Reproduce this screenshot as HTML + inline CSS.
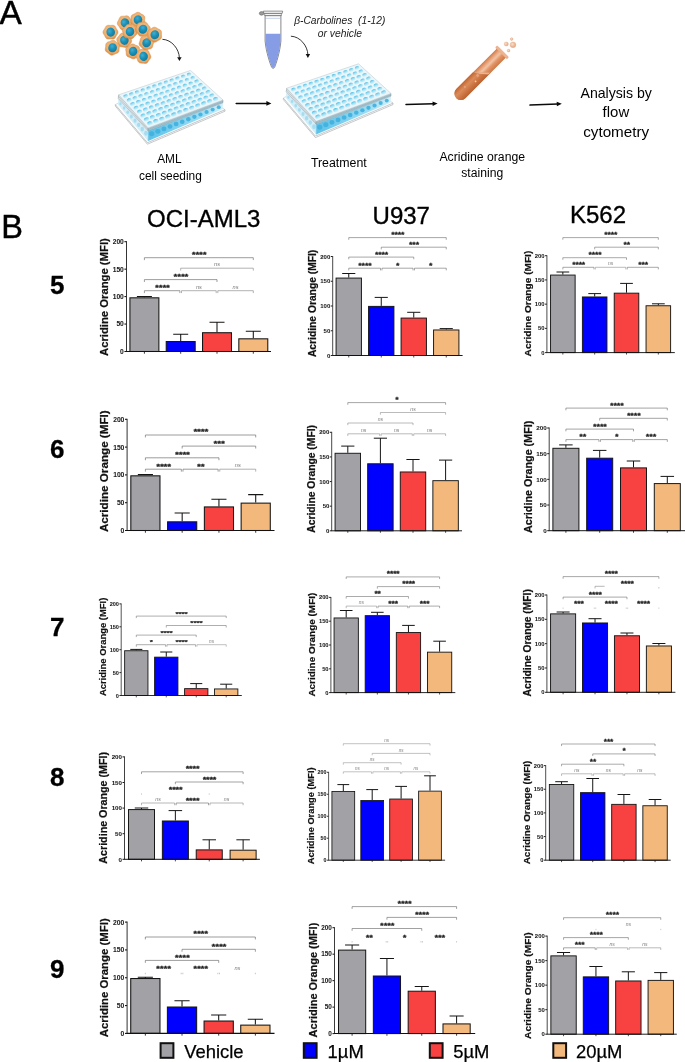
<!DOCTYPE html>
<html lang="en"><head><meta charset="utf-8"><title>Figure</title>
<style>
html,body{margin:0;padding:0;background:#fff;}
body{width:685px;height:1062px;overflow:hidden;}
svg{display:block;}
text{font-family:"Liberation Sans",Arial,sans-serif;fill:#000;}
.yl{font-weight:bold;fill:#111;stroke:#111;}
.tk{font-weight:bold;fill:#1a1a1a;stroke:#1a1a1a;}
.st{font-weight:bold;font-style:italic;fill:#222;stroke:#222;}
.ns{font-style:italic;fill:#7a7a7a;}
.hd{font-size:24px;stroke:#000;stroke-width:0.35px;}
.rw{font-size:26px;font-weight:bold;stroke:#000;stroke-width:0.3px;}
.pl{font-size:32.5px;stroke:#000;stroke-width:0.45px;}
.lg{font-size:18.4px;stroke:#000;stroke-width:0.25px;}
.cap{font-size:12px;}
.big{font-size:14.5px;}
.it{font-size:10.3px;font-style:italic;fill:#222;}
</style></head><body>
<svg width="685" height="1062" viewBox="0 0 685 1062">
<defs>
<radialGradient id="gc" cx="0.45" cy="0.42" r="0.6"><stop offset="0" stop-color="#f6c28e"/><stop offset="0.7" stop-color="#efae6c"/><stop offset="1" stop-color="#d48c48"/></radialGradient>
<radialGradient id="gn" cx="0.38" cy="0.36" r="0.7"><stop offset="0" stop-color="#44acd0"/><stop offset="0.5" stop-color="#1a90b6"/><stop offset="1" stop-color="#0f789e"/></radialGradient>
<linearGradient id="gw" x1="0" y1="0" x2="0.25" y2="1"><stop offset="0" stop-color="#30aad8"/><stop offset="0.3" stop-color="#74cfec"/><stop offset="0.6" stop-color="#aae2f4"/><stop offset="1" stop-color="#d6f1fa"/></linearGradient>
<linearGradient id="gs" x1="0" y1="0" x2="1" y2="0"><stop offset="0" stop-color="#5cc2e9"/><stop offset="0.75" stop-color="#a2dff4"/><stop offset="1" stop-color="#d4f0fa"/></linearGradient>
<linearGradient id="gt" x1="0" y1="0" x2="1" y2="0"><stop offset="0" stop-color="#d07a48"/><stop offset="0.25" stop-color="#e8a57c"/><stop offset="0.45" stop-color="#f2c4a6"/><stop offset="0.65" stop-color="#e39668"/><stop offset="1" stop-color="#cf7744"/></linearGradient>
<linearGradient id="gl" x1="0" y1="0" x2="1" y2="0"><stop offset="0" stop-color="#c0622e"/><stop offset="0.35" stop-color="#d98553"/><stop offset="0.6" stop-color="#cf7644"/><stop offset="1" stop-color="#bb5e2c"/></linearGradient>
<radialGradient id="gb" cx="0.4" cy="0.4" r="0.6"><stop offset="0" stop-color="#f8e0cc"/><stop offset="1" stop-color="#e4a47c"/></radialGradient>
<g id="cell"><path d="M7.46 0 L7.3 0.64 L7.05 1.24 L6.74 1.81 L6.44 2.34 L6.16 2.87 L5.93 3.42 L5.71 4 L5.47 4.59 L5.17 5.17 L4.79 5.71 L4.3 6.14 L3.73 6.46 L3.1 6.65 L2.45 6.73 L1.81 6.74 L1.19 6.75 L0.59 6.77 L0 6.84 L-0.61 6.94 L-1.24 7.03 L-1.89 7.07 L-2.55 7 L-3.17 6.8 L-3.73 6.46 L-4.21 6.01 L-4.6 5.48 L-4.94 4.94 L-5.25 4.4 L-5.57 3.9 L-5.93 3.42 L-6.32 2.94 L-6.71 2.44 L-7.07 1.89 L-7.34 1.29 L-7.47 0.65 L-7.46 0 L-7.3 -0.64 L-7.05 -1.24 L-6.74 -1.81 L-6.44 -2.34 L-6.16 -2.87 L-5.93 -3.42 L-5.71 -4 L-5.47 -4.59 L-5.17 -5.17 L-4.79 -5.71 L-4.3 -6.14 L-3.73 -6.46 L-3.1 -6.65 L-2.45 -6.73 L-1.81 -6.74 L-1.19 -6.75 L-0.59 -6.77 L-0 -6.84 L0.61 -6.94 L1.24 -7.03 L1.89 -7.07 L2.55 -7 L3.17 -6.8 L3.73 -6.46 L4.21 -6.01 L4.6 -5.48 L4.94 -4.94 L5.25 -4.4 L5.57 -3.9 L5.93 -3.42 L6.32 -2.94 L6.71 -2.44 L7.07 -1.89 L7.34 -1.29 L7.47 -0.65Z" fill="url(#gc)" stroke="#d4904e" stroke-width="0.5"/><ellipse cx="0.2" cy="0" rx="4.3" ry="4.6" fill="url(#gn)" transform="rotate(-20)"/></g>
<g id="plate"><path d="M115.4 104.6L147.4 142.6L225 109.6L225 111.2L147.4 144.2L115.4 106.2Z" fill="#fff" stroke="#9ea3a6" stroke-width="0.6" stroke-linejoin="round"/><path d="M115.4 104.6L118.3 103L148.1 139.8L222.6 108L225 109.6L147.4 142.6Z" fill="#fafcfd" stroke="#b0b5b8" stroke-width="0.45" stroke-linejoin="round"/><path d="M118.3 98.3L148.1 130.8L148.1 141L118 104.6Z" fill="#d3eef8"/><ellipse cx="120.48" cy="103.82" rx="1.16" ry="1.57" fill="#a5dcf0"/><ellipse cx="124.11" cy="108.03" rx="1.25" ry="1.7" fill="#a5dcf0"/><ellipse cx="127.75" cy="112.24" rx="1.35" ry="1.82" fill="#a5dcf0"/><ellipse cx="131.38" cy="116.45" rx="1.44" ry="1.95" fill="#a5dcf0"/><ellipse cx="135.02" cy="120.65" rx="1.53" ry="2.08" fill="#a5dcf0"/><ellipse cx="138.65" cy="124.86" rx="1.63" ry="2.2" fill="#a5dcf0"/><ellipse cx="142.29" cy="129.07" rx="1.72" ry="2.33" fill="#a5dcf0"/><ellipse cx="145.92" cy="133.28" rx="1.81" ry="2.45" fill="#a5dcf0"/><path d="M148.1 130.8L223 102.8L222.6 109L148.1 141Z" fill="url(#gs)"/><ellipse cx="151.75" cy="133.75" rx="2.62" ry="2.49" fill="#3fb0df" opacity="0.9"/><ellipse cx="157.84" cy="131.34" rx="2.56" ry="2.43" fill="#3fb0df" opacity="0.9"/><ellipse cx="163.93" cy="128.92" rx="2.5" ry="2.38" fill="#3fb0df" opacity="0.9"/><ellipse cx="170.02" cy="126.51" rx="2.45" ry="2.32" fill="#3fb0df" opacity="0.9"/><ellipse cx="176.11" cy="124.09" rx="2.39" ry="2.27" fill="#3fb0df" opacity="0.9"/><ellipse cx="182.2" cy="121.68" rx="2.33" ry="2.21" fill="#3fb0df" opacity="0.9"/><ellipse cx="188.29" cy="119.26" rx="2.27" ry="2.16" fill="#3fb0df" opacity="0.9"/><ellipse cx="194.38" cy="116.85" rx="2.22" ry="2.11" fill="#3fb0df" opacity="0.9"/><ellipse cx="200.47" cy="114.43" rx="2.16" ry="2.05" fill="#3fb0df" opacity="0.9"/><ellipse cx="206.56" cy="112.02" rx="2.1" ry="2" fill="#3fb0df" opacity="0.9"/><ellipse cx="212.65" cy="109.6" rx="2.05" ry="1.94" fill="#3fb0df" opacity="0.9"/><ellipse cx="218.74" cy="107.19" rx="1.99" ry="1.89" fill="#3fb0df" opacity="0.9"/><path d="M148.1 130.8V141" stroke="#8fcfe6" stroke-width="0.5"/><path d="M118.7 94.8L148.1 127.9L148.1 130.8L118.2 98.3Z" fill="#e2ecf0" stroke="#868c90" stroke-width="0.45" stroke-linejoin="round"/><path d="M118.5 96.6L148.1 129.5" stroke="#868c90" stroke-width="0.4"/><path d="M148.1 127.9L223 100L223 102.7L148.1 130.8Z" fill="#a3ccdb" stroke="#868c90" stroke-width="0.45" stroke-linejoin="round"/><path d="M148.1 129.5L223 101.5" stroke="#8e9498" stroke-width="0.4"/><path d="M118.7 94.8L190.5 70.4L223.0 100.0L148.1 127.9Z" fill="#e9f7fc" stroke="#b9c2c6" stroke-width="0.5" stroke-linejoin="round"/><ellipse cx="125.62" cy="96.24" rx="2.37" ry="1.82" fill="url(#gw)" transform="rotate(-14 125.62 96.24)"/><ellipse cx="131.38" cy="94.26" rx="2.36" ry="1.81" fill="url(#gw)" transform="rotate(-14 131.38 94.26)"/><ellipse cx="137.15" cy="92.28" rx="2.35" ry="1.8" fill="url(#gw)" transform="rotate(-14 137.15 92.28)"/><ellipse cx="142.92" cy="90.31" rx="2.34" ry="1.79" fill="url(#gw)" transform="rotate(-14 142.92 90.31)"/><ellipse cx="148.68" cy="88.33" rx="2.33" ry="1.78" fill="url(#gw)" transform="rotate(-14 148.68 88.33)"/><ellipse cx="154.45" cy="86.35" rx="2.32" ry="1.78" fill="url(#gw)" transform="rotate(-14 154.45 86.35)"/><ellipse cx="160.21" cy="84.38" rx="2.31" ry="1.77" fill="url(#gw)" transform="rotate(-14 160.21 84.38)"/><ellipse cx="165.98" cy="82.4" rx="2.3" ry="1.76" fill="url(#gw)" transform="rotate(-14 165.98 82.4)"/><ellipse cx="171.75" cy="80.42" rx="2.29" ry="1.75" fill="url(#gw)" transform="rotate(-14 171.75 80.42)"/><ellipse cx="177.51" cy="78.45" rx="2.28" ry="1.75" fill="url(#gw)" transform="rotate(-14 177.51 78.45)"/><ellipse cx="183.28" cy="76.47" rx="2.27" ry="1.74" fill="url(#gw)" transform="rotate(-14 183.28 76.47)"/><ellipse cx="189.04" cy="74.49" rx="2.26" ry="1.73" fill="url(#gw)" transform="rotate(-14 189.04 74.49)"/><ellipse cx="129.1" cy="100.11" rx="2.42" ry="1.85" fill="url(#gw)" transform="rotate(-14 129.1 100.11)"/><ellipse cx="134.89" cy="98.1" rx="2.41" ry="1.84" fill="url(#gw)" transform="rotate(-14 134.89 98.1)"/><ellipse cx="140.69" cy="96.09" rx="2.4" ry="1.84" fill="url(#gw)" transform="rotate(-14 140.69 96.09)"/><ellipse cx="146.48" cy="94.08" rx="2.39" ry="1.83" fill="url(#gw)" transform="rotate(-14 146.48 94.08)"/><ellipse cx="152.28" cy="92.07" rx="2.38" ry="1.82" fill="url(#gw)" transform="rotate(-14 152.28 92.07)"/><ellipse cx="158.07" cy="90.06" rx="2.37" ry="1.81" fill="url(#gw)" transform="rotate(-14 158.07 90.06)"/><ellipse cx="163.87" cy="88.05" rx="2.36" ry="1.81" fill="url(#gw)" transform="rotate(-14 163.87 88.05)"/><ellipse cx="169.66" cy="86.04" rx="2.35" ry="1.8" fill="url(#gw)" transform="rotate(-14 169.66 86.04)"/><ellipse cx="175.46" cy="84.03" rx="2.34" ry="1.79" fill="url(#gw)" transform="rotate(-14 175.46 84.03)"/><ellipse cx="181.25" cy="82.02" rx="2.33" ry="1.78" fill="url(#gw)" transform="rotate(-14 181.25 82.02)"/><ellipse cx="187.05" cy="80.01" rx="2.32" ry="1.77" fill="url(#gw)" transform="rotate(-14 187.05 80.01)"/><ellipse cx="192.84" cy="78" rx="2.31" ry="1.77" fill="url(#gw)" transform="rotate(-14 192.84 78)"/><ellipse cx="132.58" cy="103.98" rx="2.47" ry="1.89" fill="url(#gw)" transform="rotate(-14 132.58 103.98)"/><ellipse cx="138.4" cy="101.93" rx="2.46" ry="1.88" fill="url(#gw)" transform="rotate(-14 138.4 101.93)"/><ellipse cx="144.23" cy="99.89" rx="2.45" ry="1.87" fill="url(#gw)" transform="rotate(-14 144.23 99.89)"/><ellipse cx="150.05" cy="97.85" rx="2.44" ry="1.87" fill="url(#gw)" transform="rotate(-14 150.05 97.85)"/><ellipse cx="155.88" cy="95.81" rx="2.43" ry="1.86" fill="url(#gw)" transform="rotate(-14 155.88 95.81)"/><ellipse cx="161.7" cy="93.76" rx="2.42" ry="1.85" fill="url(#gw)" transform="rotate(-14 161.7 93.76)"/><ellipse cx="167.53" cy="91.72" rx="2.41" ry="1.84" fill="url(#gw)" transform="rotate(-14 167.53 91.72)"/><ellipse cx="173.35" cy="89.68" rx="2.4" ry="1.83" fill="url(#gw)" transform="rotate(-14 173.35 89.68)"/><ellipse cx="179.17" cy="87.64" rx="2.39" ry="1.83" fill="url(#gw)" transform="rotate(-14 179.17 87.64)"/><ellipse cx="185" cy="85.59" rx="2.38" ry="1.82" fill="url(#gw)" transform="rotate(-14 185 85.59)"/><ellipse cx="190.82" cy="83.55" rx="2.37" ry="1.81" fill="url(#gw)" transform="rotate(-14 190.82 83.55)"/><ellipse cx="196.65" cy="81.51" rx="2.36" ry="1.8" fill="url(#gw)" transform="rotate(-14 196.65 81.51)"/><ellipse cx="136.06" cy="107.85" rx="2.52" ry="1.93" fill="url(#gw)" transform="rotate(-14 136.06 107.85)"/><ellipse cx="141.91" cy="105.77" rx="2.51" ry="1.92" fill="url(#gw)" transform="rotate(-14 141.91 105.77)"/><ellipse cx="147.77" cy="103.7" rx="2.5" ry="1.91" fill="url(#gw)" transform="rotate(-14 147.77 103.7)"/><ellipse cx="153.62" cy="101.62" rx="2.49" ry="1.9" fill="url(#gw)" transform="rotate(-14 153.62 101.62)"/><ellipse cx="159.47" cy="99.54" rx="2.48" ry="1.89" fill="url(#gw)" transform="rotate(-14 159.47 99.54)"/><ellipse cx="165.33" cy="97.47" rx="2.47" ry="1.89" fill="url(#gw)" transform="rotate(-14 165.33 97.47)"/><ellipse cx="171.18" cy="95.39" rx="2.46" ry="1.88" fill="url(#gw)" transform="rotate(-14 171.18 95.39)"/><ellipse cx="177.03" cy="93.32" rx="2.45" ry="1.87" fill="url(#gw)" transform="rotate(-14 177.03 93.32)"/><ellipse cx="182.89" cy="91.24" rx="2.44" ry="1.86" fill="url(#gw)" transform="rotate(-14 182.89 91.24)"/><ellipse cx="188.74" cy="89.17" rx="2.43" ry="1.86" fill="url(#gw)" transform="rotate(-14 188.74 89.17)"/><ellipse cx="194.59" cy="87.09" rx="2.42" ry="1.85" fill="url(#gw)" transform="rotate(-14 194.59 87.09)"/><ellipse cx="200.45" cy="85.02" rx="2.41" ry="1.84" fill="url(#gw)" transform="rotate(-14 200.45 85.02)"/><ellipse cx="139.54" cy="111.72" rx="2.57" ry="1.96" fill="url(#gw)" transform="rotate(-14 139.54 111.72)"/><ellipse cx="145.42" cy="109.61" rx="2.56" ry="1.95" fill="url(#gw)" transform="rotate(-14 145.42 109.61)"/><ellipse cx="151.31" cy="107.5" rx="2.55" ry="1.95" fill="url(#gw)" transform="rotate(-14 151.31 107.5)"/><ellipse cx="157.19" cy="105.39" rx="2.54" ry="1.94" fill="url(#gw)" transform="rotate(-14 157.19 105.39)"/><ellipse cx="163.07" cy="103.28" rx="2.53" ry="1.93" fill="url(#gw)" transform="rotate(-14 163.07 103.28)"/><ellipse cx="168.95" cy="101.17" rx="2.52" ry="1.92" fill="url(#gw)" transform="rotate(-14 168.95 101.17)"/><ellipse cx="174.84" cy="99.06" rx="2.51" ry="1.92" fill="url(#gw)" transform="rotate(-14 174.84 99.06)"/><ellipse cx="180.72" cy="96.96" rx="2.49" ry="1.91" fill="url(#gw)" transform="rotate(-14 180.72 96.96)"/><ellipse cx="186.6" cy="94.85" rx="2.48" ry="1.9" fill="url(#gw)" transform="rotate(-14 186.6 94.85)"/><ellipse cx="192.48" cy="92.74" rx="2.47" ry="1.89" fill="url(#gw)" transform="rotate(-14 192.48 92.74)"/><ellipse cx="198.37" cy="90.63" rx="2.46" ry="1.88" fill="url(#gw)" transform="rotate(-14 198.37 90.63)"/><ellipse cx="204.25" cy="88.52" rx="2.45" ry="1.88" fill="url(#gw)" transform="rotate(-14 204.25 88.52)"/><ellipse cx="143.02" cy="115.59" rx="2.61" ry="2" fill="url(#gw)" transform="rotate(-14 143.02 115.59)"/><ellipse cx="148.93" cy="113.44" rx="2.6" ry="1.99" fill="url(#gw)" transform="rotate(-14 148.93 113.44)"/><ellipse cx="154.85" cy="111.3" rx="2.59" ry="1.98" fill="url(#gw)" transform="rotate(-14 154.85 111.3)"/><ellipse cx="160.76" cy="109.16" rx="2.58" ry="1.98" fill="url(#gw)" transform="rotate(-14 160.76 109.16)"/><ellipse cx="166.67" cy="107.02" rx="2.57" ry="1.97" fill="url(#gw)" transform="rotate(-14 166.67 107.02)"/><ellipse cx="172.58" cy="104.88" rx="2.56" ry="1.96" fill="url(#gw)" transform="rotate(-14 172.58 104.88)"/><ellipse cx="178.49" cy="102.74" rx="2.55" ry="1.95" fill="url(#gw)" transform="rotate(-14 178.49 102.74)"/><ellipse cx="184.4" cy="100.6" rx="2.54" ry="1.94" fill="url(#gw)" transform="rotate(-14 184.4 100.6)"/><ellipse cx="190.32" cy="98.45" rx="2.53" ry="1.94" fill="url(#gw)" transform="rotate(-14 190.32 98.45)"/><ellipse cx="196.23" cy="96.31" rx="2.52" ry="1.93" fill="url(#gw)" transform="rotate(-14 196.23 96.31)"/><ellipse cx="202.14" cy="94.17" rx="2.51" ry="1.92" fill="url(#gw)" transform="rotate(-14 202.14 94.17)"/><ellipse cx="208.05" cy="92.03" rx="2.5" ry="1.91" fill="url(#gw)" transform="rotate(-14 208.05 92.03)"/><ellipse cx="146.5" cy="119.45" rx="2.66" ry="2.04" fill="url(#gw)" transform="rotate(-14 146.5 119.45)"/><ellipse cx="152.44" cy="117.28" rx="2.65" ry="2.03" fill="url(#gw)" transform="rotate(-14 152.44 117.28)"/><ellipse cx="158.38" cy="115.11" rx="2.64" ry="2.02" fill="url(#gw)" transform="rotate(-14 158.38 115.11)"/><ellipse cx="164.33" cy="112.93" rx="2.63" ry="2.01" fill="url(#gw)" transform="rotate(-14 164.33 112.93)"/><ellipse cx="170.27" cy="110.76" rx="2.62" ry="2" fill="url(#gw)" transform="rotate(-14 170.27 110.76)"/><ellipse cx="176.21" cy="108.58" rx="2.61" ry="2" fill="url(#gw)" transform="rotate(-14 176.21 108.58)"/><ellipse cx="182.15" cy="106.41" rx="2.6" ry="1.99" fill="url(#gw)" transform="rotate(-14 182.15 106.41)"/><ellipse cx="188.09" cy="104.23" rx="2.59" ry="1.98" fill="url(#gw)" transform="rotate(-14 188.09 104.23)"/><ellipse cx="194.03" cy="102.06" rx="2.58" ry="1.97" fill="url(#gw)" transform="rotate(-14 194.03 102.06)"/><ellipse cx="199.97" cy="99.89" rx="2.57" ry="1.97" fill="url(#gw)" transform="rotate(-14 199.97 99.89)"/><ellipse cx="205.91" cy="97.71" rx="2.56" ry="1.96" fill="url(#gw)" transform="rotate(-14 205.91 97.71)"/><ellipse cx="211.85" cy="95.54" rx="2.55" ry="1.95" fill="url(#gw)" transform="rotate(-14 211.85 95.54)"/><ellipse cx="149.98" cy="123.32" rx="2.71" ry="2.07" fill="url(#gw)" transform="rotate(-14 149.98 123.32)"/><ellipse cx="155.95" cy="121.12" rx="2.7" ry="2.06" fill="url(#gw)" transform="rotate(-14 155.95 121.12)"/><ellipse cx="161.92" cy="118.91" rx="2.69" ry="2.06" fill="url(#gw)" transform="rotate(-14 161.92 118.91)"/><ellipse cx="167.89" cy="116.7" rx="2.68" ry="2.05" fill="url(#gw)" transform="rotate(-14 167.89 116.7)"/><ellipse cx="173.86" cy="114.49" rx="2.67" ry="2.04" fill="url(#gw)" transform="rotate(-14 173.86 114.49)"/><ellipse cx="179.83" cy="112.29" rx="2.66" ry="2.03" fill="url(#gw)" transform="rotate(-14 179.83 112.29)"/><ellipse cx="185.8" cy="110.08" rx="2.65" ry="2.03" fill="url(#gw)" transform="rotate(-14 185.8 110.08)"/><ellipse cx="191.77" cy="107.87" rx="2.64" ry="2.02" fill="url(#gw)" transform="rotate(-14 191.77 107.87)"/><ellipse cx="197.74" cy="105.67" rx="2.63" ry="2.01" fill="url(#gw)" transform="rotate(-14 197.74 105.67)"/><ellipse cx="203.71" cy="103.46" rx="2.62" ry="2" fill="url(#gw)" transform="rotate(-14 203.71 103.46)"/><ellipse cx="209.68" cy="101.25" rx="2.61" ry="1.99" fill="url(#gw)" transform="rotate(-14 209.68 101.25)"/><ellipse cx="215.65" cy="99.04" rx="2.6" ry="1.99" fill="url(#gw)" transform="rotate(-14 215.65 99.04)"/></g>
</defs>
<g id="panelA">
<use href="#cell" transform="translate(124.8 22.9) rotate(0)"/>
<use href="#cell" transform="translate(137.8 19.8) rotate(37)"/>
<use href="#cell" transform="translate(124.2 40.3) rotate(14)"/>
<use href="#cell" transform="translate(146.5 42.7) rotate(51)"/>
<use href="#cell" transform="translate(132.9 51.4) rotate(28)"/>
<use href="#cell" transform="translate(110.5 32.2) rotate(5)"/>
<use href="#cell" transform="translate(112.4 47.7) rotate(42)"/>
<use href="#cell" transform="translate(129.8 31.6) rotate(19)"/>
<use href="#cell" transform="translate(142.8 29.1) rotate(56)"/>
<use href="#cell" transform="translate(154.6 34.7) rotate(33)"/>
<use href="#cell" transform="translate(143.4 56.4) rotate(10)"/>
<path d="M162.4 39.3C171.75 39.6 179.1 49.06 179.4 57.8" fill="none" stroke="#111" stroke-width="0.85"/><path d="M177.2 57.2L181.6 57.2L179.4 61Z" fill="#111"/>
<path d="M290.9 36.2C300.25 36.5 307.6 45.97 307.9 54.7" fill="none" stroke="#111" stroke-width="0.85"/><path d="M305.7 54.1L310.1 54.1L307.9 57.9Z" fill="#111"/>
<use href="#plate"/>
<use href="#plate" transform="translate(168 -6.6)"/>
<path d="M236.2 103.4L267.4 103.4" stroke="#0a0a0a" stroke-width="1.5" stroke-linecap="round"/><path d="M266.4 105.7L271.4 103.4L266.4 101.1Z" fill="#0a0a0a"/>
<path d="M406 104.6L433.6 103.73" stroke="#0a0a0a" stroke-width="1.5" stroke-linecap="round"/><path d="M432.68 106.06L437.6 103.6L432.53 101.46Z" fill="#0a0a0a"/>
<path d="M530 105.1L557.8 103.96" stroke="#0a0a0a" stroke-width="1.5" stroke-linecap="round"/><path d="M556.9 106.3L561.8 103.8L556.71 101.71Z" fill="#0a0a0a"/>
<g id="epp">
<ellipse cx="261.6" cy="13.4" rx="2.3" ry="1.8" fill="#9a9a9a" stroke="#555" stroke-width="0.5"/>
<path d="M265.1 15.7V41C266 52 270.3 64 271.6 67.3Q273.1 69.6 274.6 67.3C276 64 280 52 280.9 41V15.7Z" fill="#fff" stroke="#555" stroke-width="0.7" stroke-linejoin="round"/>
<path d="M265.45 33.7H280.55V41C279.7 52 275.8 63.8 274.4 67Q273.1 69 271.8 67C270.5 63.8 266.3 52 265.45 41Z" fill="#869de6"/>
<path d="M265.4 18.3H280.6" stroke="#8da0d8" stroke-width="0.5"/>
<rect x="264.8" y="13.3" width="16.4" height="2.4" fill="#f4f4f4" stroke="#555" stroke-width="0.6"/>
<path d="M263.3 11.1H282.7L282.2 13.4H263.8Z" fill="#f0f0f0" stroke="#555" stroke-width="0.6" stroke-linejoin="round"/>
</g>
<g id="ttube" transform="translate(460.8 93.6) rotate(45)">
<path d="M-6.4 -57.5V0A6.4 6.4 0 0 0 6.4 0V-57.5Z" fill="url(#gt)"/>
<path d="M-6.4 -23.3L6.4 -36.1V0A6.4 6.4 0 0 1 -6.4 0Z" fill="url(#gl)" opacity="0.9"/>
<path d="M-5.9 -24L5.9 -35.8L5.9 -33L-1 -27Z" fill="#f3c9ac" opacity="0.75"/>
<rect x="-8.2" y="-59.6" width="16.4" height="2.6" rx="1.3" fill="#eeb48f" stroke="#e09e74" stroke-width="0.4"/>
<circle cx="-1.8" cy="-7.6" r="1.5" fill="#e6a277" stroke="#c67046" stroke-width="0.35"/>
<circle cx="-0.9" cy="-24.7" r="1.8" fill="#e6a277" stroke="#c67046" stroke-width="0.35"/>
<circle cx="1.8" cy="-19.1" r="0.9" fill="#f3d0b8"/>
</g>
<circle cx="506.3" cy="44" r="2.1" fill="url(#gb)" stroke="#e6ac88" stroke-width="0.35"/>
<circle cx="513" cy="44.8" r="2.9" fill="url(#gb)" stroke="#e6ac88" stroke-width="0.35"/>
<circle cx="511.6" cy="39.1" r="1.4" fill="url(#gb)" stroke="#e6ac88" stroke-width="0.35"/>
<circle cx="508.6" cy="50.7" r="1.4" fill="url(#gb)" stroke="#e6ac88" stroke-width="0.35"/>
<text class="it" x="294.2" y="24.3" textLength="91.2" lengthAdjust="spacingAndGlyphs">β-Carbolines&#160;&#160;(1-12)</text>
<text class="it" x="317.8" y="36.8" textLength="44.2" lengthAdjust="spacingAndGlyphs">or vehicle</text>
<text class="cap" x="157.2" y="162.8" textLength="24.4" lengthAdjust="spacingAndGlyphs">AML</text>
<text class="cap" x="139.0" y="179.8" textLength="62.8" lengthAdjust="spacingAndGlyphs">cell seeding</text>
<text class="cap" x="310.9" y="167.3" textLength="55.9" lengthAdjust="spacingAndGlyphs">Treatment</text>
<text class="cap" x="439.4" y="161.2" textLength="85.7" lengthAdjust="spacingAndGlyphs">Acridine orange</text>
<text class="cap" x="461.3" y="177.3" textLength="41.9" lengthAdjust="spacingAndGlyphs">staining</text>
<text class="big" x="580.5" y="97.8" textLength="71.4" lengthAdjust="spacingAndGlyphs">Analysis by</text>
<text class="big" x="602.6" y="117.3" textLength="26.6" lengthAdjust="spacingAndGlyphs">flow</text>
<text class="big" x="583.2" y="136.8" textLength="66.0" lengthAdjust="spacingAndGlyphs">cytometry</text>
</g>
<g id="labels">
<text class="pl" x="-0.6" y="23.5" style="font-size:33.4px">A</text>
<text class="pl" x="1.2" y="238.3">B</text>
<text class="hd" x="147" y="226.6">OCI-AML3</text>
<text class="hd" x="372.6" y="224.3">U937</text>
<text class="hd" x="570" y="222.8">K562</text>
<text class="rw" x="50" y="293.8">5</text>
<text class="rw" x="50" y="457.5">6</text>
<text class="rw" x="50" y="636.2">7</text>
<text class="rw" x="50" y="786.3">8</text>
<text class="rw" x="50" y="977.6">9</text>
</g>
<g id="charts">
<g><text class="yl" font-size="11" stroke-width="0.22" textLength="117.8" lengthAdjust="spacingAndGlyphs" transform="translate(108.1 356) rotate(-90)">Acridine Orange (MFI)</text>
<text class="tk" font-size="6.65" stroke-width="0.06" text-anchor="end" x="123.8" y="244.09">200</text>
<path d="M124.4 241.7H126.5" stroke="#111" stroke-width="1.05"/>
<text class="tk" font-size="6.65" stroke-width="0.06" text-anchor="end" x="123.8" y="271.54">150</text>
<path d="M124.4 269.15H126.5" stroke="#111" stroke-width="1.05"/>
<text class="tk" font-size="6.65" stroke-width="0.06" text-anchor="end" x="123.8" y="298.99">100</text>
<path d="M124.4 296.6H126.5" stroke="#111" stroke-width="1.05"/>
<text class="tk" font-size="6.65" stroke-width="0.06" text-anchor="end" x="123.8" y="326.44">50</text>
<path d="M124.4 324.05H126.5" stroke="#111" stroke-width="1.05"/>
<text class="tk" font-size="6.65" stroke-width="0.06" text-anchor="end" x="123.8" y="353.89">0</text>
<path d="M124.4 351.5H126.5" stroke="#111" stroke-width="1.05"/>
<path d="M144.4 297.3V296.5M136.9 296.5H151.9" stroke="#151515" stroke-width="1.05" fill="none"/>
<rect x="129.93" y="297.82" width="28.95" height="53.67" fill="#a1a1a6" stroke="#141414" stroke-width="1.05"/>
<path d="M144.4 351.5v2.2" stroke="#111" stroke-width="0.84"/>
<path d="M180.7 341V334.2M173.2 334.2H188.2" stroke="#151515" stroke-width="1.05" fill="none"/>
<rect x="166.22" y="341.52" width="28.95" height="9.97" fill="#0000fe" stroke="#141414" stroke-width="1.05"/>
<path d="M180.7 351.5v2.2" stroke="#111" stroke-width="0.84"/>
<path d="M217 332.2V322.3M209.5 322.3H224.5" stroke="#151515" stroke-width="1.05" fill="none"/>
<rect x="202.53" y="332.72" width="28.95" height="18.78" fill="#f84242" stroke="#141414" stroke-width="1.05"/>
<path d="M217 351.5v2.2" stroke="#111" stroke-width="0.84"/>
<path d="M253.3 338.3V331.3M245.8 331.3H260.8" stroke="#151515" stroke-width="1.05" fill="none"/>
<rect x="238.83" y="338.82" width="28.95" height="12.67" fill="#f2b87c" stroke="#141414" stroke-width="1.05"/>
<path d="M253.3 351.5v2.2" stroke="#111" stroke-width="0.84"/>
<path d="M126.5 241.17V351.5" stroke="#222" stroke-width="0.92" fill="none"/>
<path d="M126.04 351.5H271" stroke="#111" stroke-width="1.05" fill="none"/>
<path d="M144.4 260.1V257.7H253.3V260.1" stroke="#5c5c5c" stroke-width="0.6" fill="none"/>
<text class="st" font-size="7.3" stroke-width="0.3" textLength="14.63" lengthAdjust="spacingAndGlyphs" x="191.54" y="257.2">****</text>
<path d="M180.7 270.6V268.2H253.3V270.6" stroke="#808080" stroke-width="0.6" fill="none"/>
<text class="ns" font-size="5.6" text-anchor="middle" x="217" y="266">ns</text>
<path d="M144.4 282V279.6H217V282" stroke="#5c5c5c" stroke-width="0.6" fill="none"/>
<text class="st" font-size="7.3" stroke-width="0.3" textLength="14.63" lengthAdjust="spacingAndGlyphs" x="173.39" y="279.1">****</text>
<path d="M144.4 293.1V290.7H179.9V293.1" stroke="#5c5c5c" stroke-width="0.6" fill="none"/>
<text class="st" font-size="7.3" stroke-width="0.3" textLength="14.63" lengthAdjust="spacingAndGlyphs" x="154.84" y="290.2">****</text>
<path d="M181.5 293.1V290.7H216.2V293.1" stroke="#808080" stroke-width="0.6" fill="none"/>
<text class="ns" font-size="5.6" text-anchor="middle" x="198.85" y="288.5">ns</text>
<path d="M217.8 293.1V290.7H253.3V293.1" stroke="#808080" stroke-width="0.6" fill="none"/>
<text class="ns" font-size="5.6" text-anchor="middle" x="235.55" y="288.5">ns</text></g>
<g><text class="yl" font-size="10.03" stroke-width="0.2" textLength="107.4" lengthAdjust="spacingAndGlyphs" transform="translate(316.11 357.1) rotate(-90)">Acridine Orange (MFI)</text>
<text class="tk" font-size="6" stroke-width="0.05" text-anchor="end" x="330.27" y="258.66">200</text>
<path d="M330.81 256.5H332.7" stroke="#111" stroke-width="0.95"/>
<text class="tk" font-size="6" stroke-width="0.05" text-anchor="end" x="330.27" y="283.41">150</text>
<path d="M330.81 281.25H332.7" stroke="#111" stroke-width="0.95"/>
<text class="tk" font-size="6" stroke-width="0.05" text-anchor="end" x="330.27" y="308.16">100</text>
<path d="M330.81 306H332.7" stroke="#111" stroke-width="0.95"/>
<text class="tk" font-size="6" stroke-width="0.05" text-anchor="end" x="330.27" y="332.91">50</text>
<path d="M330.81 330.75H332.7" stroke="#111" stroke-width="0.95"/>
<text class="tk" font-size="6" stroke-width="0.05" text-anchor="end" x="330.27" y="357.66">0</text>
<path d="M330.81 355.5H332.7" stroke="#111" stroke-width="0.95"/>
<path d="M348.75 277.6V273.5M342.18 273.5H355.32" stroke="#151515" stroke-width="1" fill="none"/>
<rect x="336.07" y="278.07" width="25.35" height="77.43" fill="#a1a1a6" stroke="#141414" stroke-width="0.95"/>
<path d="M348.75 355.5v1.98" stroke="#111" stroke-width="0.76"/>
<path d="M381.25 305.9V297.4M374.68 297.4H387.82" stroke="#151515" stroke-width="1" fill="none"/>
<rect x="368.57" y="306.37" width="25.35" height="49.13" fill="#0000fe" stroke="#141414" stroke-width="0.95"/>
<path d="M381.25 355.5v1.98" stroke="#111" stroke-width="0.76"/>
<path d="M413.75 317.6V312.3M407.18 312.3H420.32" stroke="#151515" stroke-width="1" fill="none"/>
<rect x="401.07" y="318.07" width="25.35" height="37.43" fill="#f84242" stroke="#141414" stroke-width="0.95"/>
<path d="M413.75 355.5v1.98" stroke="#111" stroke-width="0.76"/>
<path d="M446.25 329.5V328.6M439.68 328.6H452.82" stroke="#151515" stroke-width="1" fill="none"/>
<rect x="433.57" y="329.97" width="25.35" height="25.53" fill="#f2b87c" stroke="#141414" stroke-width="0.95"/>
<path d="M446.25 355.5v1.98" stroke="#111" stroke-width="0.76"/>
<path d="M332.7 256.03V355.5" stroke="#222" stroke-width="0.83" fill="none"/>
<path d="M332.28 355.5H462.6" stroke="#111" stroke-width="0.95" fill="none"/>
<path d="M348.75 239.76V237.6H446.25V239.76" stroke="#5c5c5c" stroke-width="0.54" fill="none"/>
<text class="st" font-size="6.58" stroke-width="0.27" textLength="13.19" lengthAdjust="spacingAndGlyphs" x="390.91" y="237.15">****</text>
<path d="M381.25 249.36V247.2H446.25V249.36" stroke="#5c5c5c" stroke-width="0.54" fill="none"/>
<text class="st" font-size="6.58" stroke-width="0.27" textLength="9.89" lengthAdjust="spacingAndGlyphs" x="408.8" y="246.75">***</text>
<path d="M348.75 259.26V257.1H413.75V259.26" stroke="#5c5c5c" stroke-width="0.54" fill="none"/>
<text class="st" font-size="6.58" stroke-width="0.27" textLength="13.19" lengthAdjust="spacingAndGlyphs" x="374.66" y="256.65">****</text>
<path d="M348.75 270.36V268.2H380.53V270.36" stroke="#5c5c5c" stroke-width="0.54" fill="none"/>
<text class="st" font-size="6.58" stroke-width="0.27" textLength="13.19" lengthAdjust="spacingAndGlyphs" x="358.05" y="267.75">****</text>
<path d="M381.97 270.36V268.2H413.03V270.36" stroke="#5c5c5c" stroke-width="0.54" fill="none"/>
<text class="st" font-size="6.58" stroke-width="0.27" textLength="3.3" lengthAdjust="spacingAndGlyphs" x="395.85" y="267.75">*</text>
<path d="M414.47 270.36V268.2H446.25V270.36" stroke="#5c5c5c" stroke-width="0.54" fill="none"/>
<text class="st" font-size="6.58" stroke-width="0.27" textLength="3.3" lengthAdjust="spacingAndGlyphs" x="428.71" y="267.75">*</text></g>
<g><text class="yl" font-size="9.87" stroke-width="0.19" textLength="105.7" lengthAdjust="spacingAndGlyphs" transform="translate(530.66 356.4) rotate(-90)">Acridine Orange (MFI)</text>
<text class="tk" font-size="5.87" stroke-width="0.05" text-anchor="end" x="544.52" y="257.81">200</text>
<path d="M545.05 255.7H546.9" stroke="#111" stroke-width="0.93"/>
<text class="tk" font-size="5.87" stroke-width="0.05" text-anchor="end" x="544.52" y="282.04">150</text>
<path d="M545.05 279.93H546.9" stroke="#111" stroke-width="0.93"/>
<text class="tk" font-size="5.87" stroke-width="0.05" text-anchor="end" x="544.52" y="306.26">100</text>
<path d="M545.05 304.15H546.9" stroke="#111" stroke-width="0.93"/>
<text class="tk" font-size="5.87" stroke-width="0.05" text-anchor="end" x="544.52" y="330.49">50</text>
<path d="M545.05 328.38H546.9" stroke="#111" stroke-width="0.93"/>
<text class="tk" font-size="5.87" stroke-width="0.05" text-anchor="end" x="544.52" y="354.71">0</text>
<path d="M545.05 352.6H546.9" stroke="#111" stroke-width="0.93"/>
<path d="M562.85 274.6V272M556.48 272H569.23" stroke="#151515" stroke-width="1" fill="none"/>
<rect x="550.56" y="275.06" width="24.57" height="77.54" fill="#a1a1a6" stroke="#141414" stroke-width="0.93"/>
<path d="M562.85 352.6v1.94" stroke="#111" stroke-width="0.74"/>
<path d="M594.68 296.5V293.6M588.31 293.6H601.06" stroke="#151515" stroke-width="1" fill="none"/>
<rect x="582.39" y="296.96" width="24.57" height="55.64" fill="#0000fe" stroke="#141414" stroke-width="0.93"/>
<path d="M594.68 352.6v1.94" stroke="#111" stroke-width="0.74"/>
<path d="M626.51 292.7V283.4M620.13 283.4H632.88" stroke="#151515" stroke-width="1" fill="none"/>
<rect x="614.22" y="293.16" width="24.57" height="59.44" fill="#f84242" stroke="#141414" stroke-width="0.93"/>
<path d="M626.51 352.6v1.94" stroke="#111" stroke-width="0.74"/>
<path d="M658.34 305.3V303.8M651.97 303.8H664.72" stroke="#151515" stroke-width="1" fill="none"/>
<rect x="646.05" y="305.76" width="24.57" height="46.84" fill="#f2b87c" stroke="#141414" stroke-width="0.93"/>
<path d="M658.34 352.6v1.94" stroke="#111" stroke-width="0.74"/>
<path d="M546.9 255.24V352.6" stroke="#222" stroke-width="0.82" fill="none"/>
<path d="M546.49 352.6H674.8" stroke="#111" stroke-width="0.93" fill="none"/>
<path d="M562.85 239.72V237.6H658.34V239.72" stroke="#5c5c5c" stroke-width="0.53" fill="none"/>
<text class="st" font-size="6.44" stroke-width="0.26" textLength="12.91" lengthAdjust="spacingAndGlyphs" x="604.14" y="237.16">****</text>
<path d="M594.68 249.32V247.2H658.34V249.32" stroke="#5c5c5c" stroke-width="0.53" fill="none"/>
<text class="st" font-size="6.44" stroke-width="0.26" textLength="6.45" lengthAdjust="spacingAndGlyphs" x="623.28" y="246.76">**</text>
<path d="M562.85 259.82V257.7H626.51V259.82" stroke="#5c5c5c" stroke-width="0.53" fill="none"/>
<text class="st" font-size="6.44" stroke-width="0.26" textLength="12.91" lengthAdjust="spacingAndGlyphs" x="588.23" y="257.26">****</text>
<path d="M562.85 269.42V267.3H593.97V269.42" stroke="#5c5c5c" stroke-width="0.53" fill="none"/>
<text class="st" font-size="6.44" stroke-width="0.26" textLength="12.91" lengthAdjust="spacingAndGlyphs" x="571.96" y="266.86">****</text>
<path d="M595.39 269.42V267.3H625.8V269.42" stroke="#808080" stroke-width="0.53" fill="none"/>
<text class="ns" font-size="4.94" text-anchor="middle" x="610.6" y="265.36">ns</text>
<path d="M627.22 269.42V267.3H658.34V269.42" stroke="#5c5c5c" stroke-width="0.53" fill="none"/>
<text class="st" font-size="6.44" stroke-width="0.26" textLength="9.68" lengthAdjust="spacingAndGlyphs" x="637.94" y="266.86">***</text></g>
<g><text class="yl" font-size="11.37" stroke-width="0.22" textLength="121.8" lengthAdjust="spacingAndGlyphs" transform="translate(108.47 532.1) rotate(-90)">Acridine Orange (MFI)</text>
<text class="tk" font-size="6.73" stroke-width="0.06" text-anchor="end" x="124.37" y="421.72">200</text>
<path d="M124.97 419.3H127.1" stroke="#111" stroke-width="1.06"/>
<text class="tk" font-size="6.73" stroke-width="0.06" text-anchor="end" x="124.37" y="449.52">150</text>
<path d="M124.97 447.1H127.1" stroke="#111" stroke-width="1.06"/>
<text class="tk" font-size="6.73" stroke-width="0.06" text-anchor="end" x="124.37" y="477.32">100</text>
<path d="M124.97 474.9H127.1" stroke="#111" stroke-width="1.06"/>
<text class="tk" font-size="6.73" stroke-width="0.06" text-anchor="end" x="124.37" y="505.12">50</text>
<path d="M124.97 502.7H127.1" stroke="#111" stroke-width="1.06"/>
<text class="tk" font-size="6.73" stroke-width="0.06" text-anchor="end" x="124.37" y="532.92">0</text>
<path d="M124.97 530.5H127.1" stroke="#111" stroke-width="1.06"/>
<path d="M145.4 475.3V474.6M137.85 474.6H152.95" stroke="#151515" stroke-width="1.06" fill="none"/>
<rect x="130.83" y="475.83" width="29.14" height="54.67" fill="#a1a1a6" stroke="#141414" stroke-width="1.06"/>
<path d="M145.4 530.5v2.23" stroke="#111" stroke-width="0.85"/>
<path d="M182.17 521.3V513M174.62 513H189.72" stroke="#151515" stroke-width="1.06" fill="none"/>
<rect x="167.6" y="521.83" width="29.14" height="8.67" fill="#0000fe" stroke="#141414" stroke-width="1.06"/>
<path d="M182.17 530.5v2.23" stroke="#111" stroke-width="0.85"/>
<path d="M218.94 506.4V499.3M211.39 499.3H226.49" stroke="#151515" stroke-width="1.06" fill="none"/>
<rect x="204.37" y="506.93" width="29.14" height="23.57" fill="#f84242" stroke="#141414" stroke-width="1.06"/>
<path d="M218.94 530.5v2.23" stroke="#111" stroke-width="0.85"/>
<path d="M255.71 502.6V494.6M248.16 494.6H263.26" stroke="#151515" stroke-width="1.06" fill="none"/>
<rect x="241.14" y="503.13" width="29.14" height="27.37" fill="#f2b87c" stroke="#141414" stroke-width="1.06"/>
<path d="M255.71 530.5v2.23" stroke="#111" stroke-width="0.85"/>
<path d="M127.1 418.77V530.5" stroke="#222" stroke-width="0.94" fill="none"/>
<path d="M126.63 530.5H274.5" stroke="#111" stroke-width="1.06" fill="none"/>
<path d="M145.4 437.43V435H255.71V437.43" stroke="#5c5c5c" stroke-width="0.61" fill="none"/>
<text class="st" font-size="7.39" stroke-width="0.3" textLength="14.81" lengthAdjust="spacingAndGlyphs" x="193.15" y="434.49">****</text>
<path d="M182.17 448.53V446.1H255.71V448.53" stroke="#5c5c5c" stroke-width="0.61" fill="none"/>
<text class="st" font-size="7.39" stroke-width="0.3" textLength="11.11" lengthAdjust="spacingAndGlyphs" x="213.39" y="445.59">***</text>
<path d="M145.4 460.23V457.8H218.94V460.23" stroke="#5c5c5c" stroke-width="0.61" fill="none"/>
<text class="st" font-size="7.39" stroke-width="0.3" textLength="14.81" lengthAdjust="spacingAndGlyphs" x="174.76" y="457.29">****</text>
<path d="M145.4 471.63V469.2H181.36V471.63" stroke="#5c5c5c" stroke-width="0.61" fill="none"/>
<text class="st" font-size="7.39" stroke-width="0.3" textLength="14.81" lengthAdjust="spacingAndGlyphs" x="155.97" y="468.69">****</text>
<path d="M182.98 471.63V469.2H218.13V471.63" stroke="#5c5c5c" stroke-width="0.61" fill="none"/>
<text class="st" font-size="7.39" stroke-width="0.3" textLength="7.41" lengthAdjust="spacingAndGlyphs" x="196.85" y="468.69">**</text>
<path d="M219.75 471.63V469.2H255.71V471.63" stroke="#808080" stroke-width="0.61" fill="none"/>
<text class="ns" font-size="5.67" text-anchor="middle" x="237.73" y="466.97">ns</text></g>
<g><text class="yl" font-size="10.06" stroke-width="0.2" textLength="107.8" lengthAdjust="spacingAndGlyphs" transform="translate(315.19 532.8) rotate(-90)">Acridine Orange (MFI)</text>
<text class="tk" font-size="5.97" stroke-width="0.05" text-anchor="end" x="329.28" y="434.45">200</text>
<path d="M329.82 432.3H331.7" stroke="#111" stroke-width="0.94"/>
<text class="tk" font-size="5.97" stroke-width="0.05" text-anchor="end" x="329.28" y="459.07">150</text>
<path d="M329.82 456.93H331.7" stroke="#111" stroke-width="0.94"/>
<text class="tk" font-size="5.97" stroke-width="0.05" text-anchor="end" x="329.28" y="483.7">100</text>
<path d="M329.82 481.55H331.7" stroke="#111" stroke-width="0.94"/>
<text class="tk" font-size="5.97" stroke-width="0.05" text-anchor="end" x="329.28" y="508.32">50</text>
<path d="M329.82 506.17H331.7" stroke="#111" stroke-width="0.94"/>
<text class="tk" font-size="5.97" stroke-width="0.05" text-anchor="end" x="329.28" y="532.95">0</text>
<path d="M329.82 530.8H331.7" stroke="#111" stroke-width="0.94"/>
<path d="M347.8 452.8V446.1M341.2 446.1H354.4" stroke="#151515" stroke-width="1" fill="none"/>
<rect x="335.07" y="453.27" width="25.46" height="77.53" fill="#a1a1a6" stroke="#141414" stroke-width="0.94"/>
<path d="M347.8 530.8v1.97" stroke="#111" stroke-width="0.75"/>
<path d="M380.4 463.3V438.2M373.8 438.2H387" stroke="#151515" stroke-width="1" fill="none"/>
<rect x="367.67" y="463.77" width="25.46" height="67.03" fill="#0000fe" stroke="#141414" stroke-width="0.94"/>
<path d="M380.4 530.8v1.97" stroke="#111" stroke-width="0.75"/>
<path d="M413 471.5V459.5M406.4 459.5H419.6" stroke="#151515" stroke-width="1" fill="none"/>
<rect x="400.27" y="471.97" width="25.46" height="58.83" fill="#f84242" stroke="#141414" stroke-width="0.94"/>
<path d="M413 530.8v1.97" stroke="#111" stroke-width="0.75"/>
<path d="M445.6 480.2V460.1M439 460.1H452.2" stroke="#151515" stroke-width="1" fill="none"/>
<rect x="432.87" y="480.67" width="25.46" height="50.13" fill="#f2b87c" stroke="#141414" stroke-width="0.94"/>
<path d="M445.6 530.8v1.97" stroke="#111" stroke-width="0.75"/>
<path d="M331.7 431.83V530.8" stroke="#222" stroke-width="0.83" fill="none"/>
<path d="M331.29 530.8H462" stroke="#111" stroke-width="0.94" fill="none"/>
<path d="M347.8 404.75V402.6H445.6V404.75" stroke="#5c5c5c" stroke-width="0.54" fill="none"/>
<text class="st" font-size="6.55" stroke-width="0.27" textLength="3.28" lengthAdjust="spacingAndGlyphs" x="395.06" y="402.15">*</text>
<path d="M380.4 414.65V412.5H445.6V414.65" stroke="#808080" stroke-width="0.54" fill="none"/>
<text class="ns" font-size="5.02" text-anchor="middle" x="413" y="410.53">ns</text>
<path d="M347.8 425.15V423H413V425.15" stroke="#808080" stroke-width="0.54" fill="none"/>
<text class="ns" font-size="5.02" text-anchor="middle" x="380.4" y="421.03">ns</text>
<path d="M347.8 435.95V433.8H379.68V435.95" stroke="#808080" stroke-width="0.54" fill="none"/>
<text class="ns" font-size="5.02" text-anchor="middle" x="363.74" y="431.83">ns</text>
<path d="M381.12 435.95V433.8H412.28V435.95" stroke="#808080" stroke-width="0.54" fill="none"/>
<text class="ns" font-size="5.02" text-anchor="middle" x="396.7" y="431.83">ns</text>
<path d="M413.72 435.95V433.8H445.6V435.95" stroke="#808080" stroke-width="0.54" fill="none"/>
<text class="ns" font-size="5.02" text-anchor="middle" x="429.66" y="431.83">ns</text></g>
<g><text class="yl" font-size="10.49" stroke-width="0.21" textLength="112.4" lengthAdjust="spacingAndGlyphs" transform="translate(531.99 533.1) rotate(-90)">Acridine Orange (MFI)</text>
<text class="tk" font-size="6.22" stroke-width="0.06" text-anchor="end" x="546.67" y="430.24">200</text>
<path d="M547.24 428H549.2" stroke="#111" stroke-width="0.98"/>
<text class="tk" font-size="6.22" stroke-width="0.06" text-anchor="end" x="546.67" y="455.91">150</text>
<path d="M547.24 453.68H549.2" stroke="#111" stroke-width="0.98"/>
<text class="tk" font-size="6.22" stroke-width="0.06" text-anchor="end" x="546.67" y="481.59">100</text>
<path d="M547.24 479.35H549.2" stroke="#111" stroke-width="0.98"/>
<text class="tk" font-size="6.22" stroke-width="0.06" text-anchor="end" x="546.67" y="507.26">50</text>
<path d="M547.24 505.03H549.2" stroke="#111" stroke-width="0.98"/>
<text class="tk" font-size="6.22" stroke-width="0.06" text-anchor="end" x="546.67" y="532.94">0</text>
<path d="M547.24 530.7H549.2" stroke="#111" stroke-width="0.98"/>
<path d="M565.9 447.8V444.9M559.15 444.9H572.65" stroke="#151515" stroke-width="1" fill="none"/>
<rect x="552.89" y="448.29" width="26.02" height="82.41" fill="#a1a1a6" stroke="#141414" stroke-width="0.98"/>
<path d="M565.9 530.7v2.06" stroke="#111" stroke-width="0.79"/>
<path d="M599.7 457.7V450.4M592.95 450.4H606.45" stroke="#151515" stroke-width="1" fill="none"/>
<rect x="586.69" y="458.19" width="26.02" height="72.51" fill="#0000fe" stroke="#141414" stroke-width="0.98"/>
<path d="M599.7 530.7v2.06" stroke="#111" stroke-width="0.79"/>
<path d="M633.5 467.4V461M626.75 461H640.25" stroke="#151515" stroke-width="1" fill="none"/>
<rect x="620.49" y="467.89" width="26.02" height="62.81" fill="#f84242" stroke="#141414" stroke-width="0.98"/>
<path d="M633.5 530.7v2.06" stroke="#111" stroke-width="0.79"/>
<path d="M667.3 483.1V476.4M660.55 476.4H674.05" stroke="#151515" stroke-width="1" fill="none"/>
<rect x="654.29" y="483.59" width="26.02" height="47.11" fill="#f2b87c" stroke="#141414" stroke-width="0.98"/>
<path d="M667.3 530.7v2.06" stroke="#111" stroke-width="0.79"/>
<path d="M549.2 427.51V530.7" stroke="#222" stroke-width="0.86" fill="none"/>
<path d="M548.77 530.7H685" stroke="#111" stroke-width="0.98" fill="none"/>
<path d="M565.9 410.34V408.1H667.3V410.34" stroke="#5c5c5c" stroke-width="0.56" fill="none"/>
<text class="st" font-size="6.83" stroke-width="0.28" textLength="13.68" lengthAdjust="spacingAndGlyphs" x="609.76" y="407.63">****</text>
<path d="M599.7 420.54V418.3H667.3V420.54" stroke="#5c5c5c" stroke-width="0.56" fill="none"/>
<text class="st" font-size="6.83" stroke-width="0.28" textLength="13.68" lengthAdjust="spacingAndGlyphs" x="626.66" y="417.83">****</text>
<path d="M565.9 431.34V429.1H633.5V431.34" stroke="#5c5c5c" stroke-width="0.56" fill="none"/>
<text class="st" font-size="6.83" stroke-width="0.28" textLength="13.68" lengthAdjust="spacingAndGlyphs" x="592.86" y="428.63">****</text>
<path d="M565.9 441.84V439.6H598.95V441.84" stroke="#5c5c5c" stroke-width="0.56" fill="none"/>
<text class="st" font-size="6.83" stroke-width="0.28" textLength="6.84" lengthAdjust="spacingAndGlyphs" x="579.01" y="439.13">**</text>
<path d="M600.45 441.84V439.6H632.75V441.84" stroke="#5c5c5c" stroke-width="0.56" fill="none"/>
<text class="st" font-size="6.83" stroke-width="0.28" textLength="3.42" lengthAdjust="spacingAndGlyphs" x="614.89" y="439.13">*</text>
<path d="M634.25 441.84V439.6H667.3V441.84" stroke="#5c5c5c" stroke-width="0.56" fill="none"/>
<text class="st" font-size="6.83" stroke-width="0.28" textLength="10.26" lengthAdjust="spacingAndGlyphs" x="645.64" y="439.13">***</text></g>
<g><text class="yl" font-size="9.19" stroke-width="0.18" textLength="98.4" lengthAdjust="spacingAndGlyphs" transform="translate(105.85 696.1) rotate(-90)">Acridine Orange (MFI)</text>
<text class="tk" font-size="5.55" stroke-width="0.05" text-anchor="end" x="118.95" y="605.9">200</text>
<path d="M119.45 603.9H121.2" stroke="#111" stroke-width="0.88"/>
<text class="tk" font-size="5.55" stroke-width="0.05" text-anchor="end" x="118.95" y="628.8">150</text>
<path d="M119.45 626.8H121.2" stroke="#111" stroke-width="0.88"/>
<text class="tk" font-size="5.55" stroke-width="0.05" text-anchor="end" x="118.95" y="651.7">100</text>
<path d="M119.45 649.7H121.2" stroke="#111" stroke-width="0.88"/>
<text class="tk" font-size="5.55" stroke-width="0.05" text-anchor="end" x="118.95" y="674.6">50</text>
<path d="M119.45 672.6H121.2" stroke="#111" stroke-width="0.88"/>
<text class="tk" font-size="5.55" stroke-width="0.05" text-anchor="end" x="118.95" y="697.5">0</text>
<path d="M119.45 695.5H121.2" stroke="#111" stroke-width="0.88"/>
<path d="M136.3 650.3V649.4M130.25 649.4H142.35" stroke="#151515" stroke-width="1" fill="none"/>
<rect x="124.64" y="650.74" width="23.32" height="44.76" fill="#a1a1a6" stroke="#141414" stroke-width="0.88"/>
<path d="M136.3 695.5v1.84" stroke="#111" stroke-width="0.7"/>
<path d="M166.27 656.7V652M160.22 652H172.32" stroke="#151515" stroke-width="1" fill="none"/>
<rect x="154.61" y="657.14" width="23.32" height="38.36" fill="#0000fe" stroke="#141414" stroke-width="0.88"/>
<path d="M166.27 695.5v1.84" stroke="#111" stroke-width="0.7"/>
<path d="M196.24 688.2V683.6M190.19 683.6H202.29" stroke="#151515" stroke-width="1" fill="none"/>
<rect x="184.58" y="688.64" width="23.32" height="6.86" fill="#f84242" stroke="#141414" stroke-width="0.88"/>
<path d="M196.24 695.5v1.84" stroke="#111" stroke-width="0.7"/>
<path d="M226.21 688.5V684.2M220.16 684.2H232.26" stroke="#151515" stroke-width="1" fill="none"/>
<rect x="214.55" y="688.94" width="23.32" height="6.56" fill="#f2b87c" stroke="#141414" stroke-width="0.88"/>
<path d="M226.21 695.5v1.84" stroke="#111" stroke-width="0.7"/>
<path d="M121.2 603.46V695.5" stroke="#222" stroke-width="0.77" fill="none"/>
<path d="M120.81 695.5H241.8" stroke="#111" stroke-width="0.88" fill="none"/>
<path d="M136.3 618.1V616.1H226.21V618.1" stroke="#5c5c5c" stroke-width="0.5" fill="none"/>
<text class="st" font-size="6.09" stroke-width="0.25" textLength="12.2" lengthAdjust="spacingAndGlyphs" x="175.15" y="615.68">****</text>
<path d="M166.27 627.5V625.5H226.21V627.5" stroke="#5c5c5c" stroke-width="0.5" fill="none"/>
<text class="st" font-size="6.09" stroke-width="0.25" textLength="12.2" lengthAdjust="spacingAndGlyphs" x="190.14" y="625.08">****</text>
<path d="M136.3 637.1V635.1H196.24V637.1" stroke="#5c5c5c" stroke-width="0.5" fill="none"/>
<text class="st" font-size="6.09" stroke-width="0.25" textLength="12.2" lengthAdjust="spacingAndGlyphs" x="160.17" y="634.68">****</text>
<path d="M136.3 646.7V644.7H165.6V646.7" stroke="#5c5c5c" stroke-width="0.5" fill="none"/>
<text class="st" font-size="6.09" stroke-width="0.25" textLength="3.05" lengthAdjust="spacingAndGlyphs" x="149.43" y="644.28">*</text>
<path d="M166.94 646.7V644.7H195.57V646.7" stroke="#5c5c5c" stroke-width="0.5" fill="none"/>
<text class="st" font-size="6.09" stroke-width="0.25" textLength="12.2" lengthAdjust="spacingAndGlyphs" x="175.15" y="644.28">****</text>
<path d="M196.91 646.7V644.7H226.21V646.7" stroke="#808080" stroke-width="0.5" fill="none"/>
<text class="ns" font-size="4.67" text-anchor="middle" x="211.56" y="642.86">ns</text></g>
<g><text class="yl" font-size="9.7" stroke-width="0.19" textLength="103.9" lengthAdjust="spacingAndGlyphs" transform="translate(314.95 696.6) rotate(-90)">Acridine Orange (MFI)</text>
<text class="tk" font-size="5.77" stroke-width="0.05" text-anchor="end" x="328.56" y="599.48">200</text>
<path d="M329.08 597.4H330.9" stroke="#111" stroke-width="0.91"/>
<text class="tk" font-size="5.77" stroke-width="0.05" text-anchor="end" x="328.56" y="623.28">150</text>
<path d="M329.08 621.2H330.9" stroke="#111" stroke-width="0.91"/>
<text class="tk" font-size="5.77" stroke-width="0.05" text-anchor="end" x="328.56" y="647.08">100</text>
<path d="M329.08 645H330.9" stroke="#111" stroke-width="0.91"/>
<text class="tk" font-size="5.77" stroke-width="0.05" text-anchor="end" x="328.56" y="670.88">50</text>
<path d="M329.08 668.8H330.9" stroke="#111" stroke-width="0.91"/>
<text class="tk" font-size="5.77" stroke-width="0.05" text-anchor="end" x="328.56" y="694.68">0</text>
<path d="M329.08 692.6H330.9" stroke="#111" stroke-width="0.91"/>
<path d="M346.2 617.5V610.5M339.9 610.5H352.5" stroke="#151515" stroke-width="1" fill="none"/>
<rect x="334.06" y="617.96" width="24.29" height="74.64" fill="#a1a1a6" stroke="#141414" stroke-width="0.91"/>
<path d="M346.2 692.6v1.91" stroke="#111" stroke-width="0.73"/>
<path d="M377.33 615.2V612.3M371.03 612.3H383.63" stroke="#151515" stroke-width="1" fill="none"/>
<rect x="365.19" y="615.66" width="24.29" height="76.94" fill="#0000fe" stroke="#141414" stroke-width="0.91"/>
<path d="M377.33 692.6v1.91" stroke="#111" stroke-width="0.73"/>
<path d="M408.46 632.1V625.4M402.16 625.4H414.76" stroke="#151515" stroke-width="1" fill="none"/>
<rect x="396.32" y="632.56" width="24.29" height="60.04" fill="#f84242" stroke="#141414" stroke-width="0.91"/>
<path d="M408.46 692.6v1.91" stroke="#111" stroke-width="0.73"/>
<path d="M439.59 651.7V641.2M433.29 641.2H445.89" stroke="#151515" stroke-width="1" fill="none"/>
<rect x="427.45" y="652.16" width="24.29" height="40.44" fill="#f2b87c" stroke="#141414" stroke-width="0.91"/>
<path d="M439.59 692.6v1.91" stroke="#111" stroke-width="0.73"/>
<path d="M330.9 596.94V692.6" stroke="#222" stroke-width="0.8" fill="none"/>
<path d="M330.5 692.6H455.3" stroke="#111" stroke-width="0.91" fill="none"/>
<path d="M346.2 578.98V576.9H439.59V578.98" stroke="#5c5c5c" stroke-width="0.52" fill="none"/>
<text class="st" font-size="6.33" stroke-width="0.26" textLength="12.68" lengthAdjust="spacingAndGlyphs" x="386.55" y="576.47">****</text>
<path d="M377.33 588.68V586.6H439.59V588.68" stroke="#5c5c5c" stroke-width="0.52" fill="none"/>
<text class="st" font-size="6.33" stroke-width="0.26" textLength="12.68" lengthAdjust="spacingAndGlyphs" x="402.12" y="586.17">****</text>
<path d="M346.2 598.58V596.5H408.46V598.58" stroke="#5c5c5c" stroke-width="0.52" fill="none"/>
<text class="st" font-size="6.33" stroke-width="0.26" textLength="6.34" lengthAdjust="spacingAndGlyphs" x="374.16" y="596.07">**</text>
<path d="M346.2 608.18V606.1H376.64V608.18" stroke="#808080" stroke-width="0.52" fill="none"/>
<text class="ns" font-size="4.86" text-anchor="middle" x="361.42" y="604.19">ns</text>
<path d="M378.02 608.18V606.1H407.77V608.18" stroke="#5c5c5c" stroke-width="0.52" fill="none"/>
<text class="st" font-size="6.33" stroke-width="0.26" textLength="9.51" lengthAdjust="spacingAndGlyphs" x="388.14" y="605.67">***</text>
<path d="M409.15 608.18V606.1H439.59V608.18" stroke="#5c5c5c" stroke-width="0.52" fill="none"/>
<text class="st" font-size="6.33" stroke-width="0.26" textLength="9.51" lengthAdjust="spacingAndGlyphs" x="419.62" y="605.67">***</text></g>
<g><text class="yl" font-size="10.01" stroke-width="0.19" textLength="107.2" lengthAdjust="spacingAndGlyphs" transform="translate(530.59 696.4) rotate(-90)">Acridine Orange (MFI)</text>
<text class="tk" font-size="5.89" stroke-width="0.05" text-anchor="end" x="544.51" y="597.12">200</text>
<path d="M545.04 595H546.9" stroke="#111" stroke-width="0.93"/>
<text class="tk" font-size="5.89" stroke-width="0.05" text-anchor="end" x="544.51" y="621.45">150</text>
<path d="M545.04 619.33H546.9" stroke="#111" stroke-width="0.93"/>
<text class="tk" font-size="5.89" stroke-width="0.05" text-anchor="end" x="544.51" y="645.77">100</text>
<path d="M545.04 643.65H546.9" stroke="#111" stroke-width="0.93"/>
<text class="tk" font-size="5.89" stroke-width="0.05" text-anchor="end" x="544.51" y="670.1">50</text>
<path d="M545.04 667.97H546.9" stroke="#111" stroke-width="0.93"/>
<text class="tk" font-size="5.89" stroke-width="0.05" text-anchor="end" x="544.51" y="694.42">0</text>
<path d="M545.04 692.3H546.9" stroke="#111" stroke-width="0.93"/>
<path d="M563.1 613.4V612M556.6 612H569.6" stroke="#151515" stroke-width="1" fill="none"/>
<rect x="550.57" y="613.87" width="25.07" height="78.43" fill="#a1a1a6" stroke="#141414" stroke-width="0.93"/>
<path d="M563.1 692.3v1.95" stroke="#111" stroke-width="0.74"/>
<path d="M595.03 622.5V618.7M588.53 618.7H601.53" stroke="#151515" stroke-width="1" fill="none"/>
<rect x="582.5" y="622.97" width="25.07" height="69.33" fill="#0000fe" stroke="#141414" stroke-width="0.93"/>
<path d="M595.03 692.3v1.95" stroke="#111" stroke-width="0.74"/>
<path d="M626.96 635.3V633M620.46 633H633.46" stroke="#151515" stroke-width="1" fill="none"/>
<rect x="614.43" y="635.77" width="25.07" height="56.53" fill="#f84242" stroke="#141414" stroke-width="0.93"/>
<path d="M626.96 692.3v1.95" stroke="#111" stroke-width="0.74"/>
<path d="M658.89 645.5V643.5M652.39 643.5H665.39" stroke="#151515" stroke-width="1" fill="none"/>
<rect x="646.36" y="645.97" width="25.07" height="46.33" fill="#f2b87c" stroke="#141414" stroke-width="0.93"/>
<path d="M658.89 692.3v1.95" stroke="#111" stroke-width="0.74"/>
<path d="M546.9 594.53V692.3" stroke="#222" stroke-width="0.82" fill="none"/>
<path d="M546.49 692.3H675.4" stroke="#111" stroke-width="0.93" fill="none"/>
<path d="M563.1 578.73V576.6H658.89V578.73" stroke="#5c5c5c" stroke-width="0.53" fill="none"/>
<text class="st" font-size="6.47" stroke-width="0.27" textLength="12.96" lengthAdjust="spacingAndGlyphs" x="604.51" y="576.16">****</text>
<path d="M595.03 588.43V586.3H604.61M658.89 588.43v-1.28" stroke="#777" stroke-width="0.53" fill="none"/>
<text class="st" font-size="6.47" stroke-width="0.27" textLength="12.96" lengthAdjust="spacingAndGlyphs" x="620.48" y="585.86">****</text>
<path d="M563.1 599.23V597.1H626.96V599.23" stroke="#5c5c5c" stroke-width="0.53" fill="none"/>
<text class="st" font-size="6.47" stroke-width="0.27" textLength="12.96" lengthAdjust="spacingAndGlyphs" x="588.55" y="596.66">****</text>
<path d="M563.1 608.83v-1.28M594.32 608.83v-1.28" stroke="#999" stroke-width="0.49" fill="none"/>
<text class="st" font-size="6.47" stroke-width="0.27" textLength="9.72" lengthAdjust="spacingAndGlyphs" x="573.85" y="606.26">***</text>
<path d="M595.74 608.83v-1.28M626.25 608.83v-1.28" stroke="#999" stroke-width="0.49" fill="none"/>
<text class="st" font-size="6.47" stroke-width="0.27" textLength="12.96" lengthAdjust="spacingAndGlyphs" x="604.51" y="606.26">****</text>
<path d="M627.67 608.83v-1.28M658.89 608.83v-1.28" stroke="#999" stroke-width="0.49" fill="none"/>
<text class="st" font-size="6.47" stroke-width="0.27" textLength="12.96" lengthAdjust="spacingAndGlyphs" x="636.8" y="606.26">****</text></g>
<g><text class="yl" font-size="10.44" stroke-width="0.21" textLength="111.8" lengthAdjust="spacingAndGlyphs" transform="translate(107.34 863.7) rotate(-90)">Acridine Orange (MFI)</text>
<text class="tk" font-size="6.2" stroke-width="0.06" text-anchor="end" x="121.98" y="759.13">200</text>
<path d="M122.54 756.9H124.5" stroke="#111" stroke-width="0.98"/>
<text class="tk" font-size="6.2" stroke-width="0.06" text-anchor="end" x="121.98" y="784.73">150</text>
<path d="M122.54 782.5H124.5" stroke="#111" stroke-width="0.98"/>
<text class="tk" font-size="6.2" stroke-width="0.06" text-anchor="end" x="121.98" y="810.33">100</text>
<path d="M122.54 808.1H124.5" stroke="#111" stroke-width="0.98"/>
<text class="tk" font-size="6.2" stroke-width="0.06" text-anchor="end" x="121.98" y="835.93">50</text>
<path d="M122.54 833.7H124.5" stroke="#111" stroke-width="0.98"/>
<text class="tk" font-size="6.2" stroke-width="0.06" text-anchor="end" x="121.98" y="861.53">0</text>
<path d="M122.54 859.3H124.5" stroke="#111" stroke-width="0.98"/>
<path d="M141.5 809.1V808M134.75 808H148.25" stroke="#151515" stroke-width="1" fill="none"/>
<rect x="128.49" y="809.59" width="26.02" height="49.71" fill="#a1a1a6" stroke="#141414" stroke-width="0.98"/>
<path d="M141.5 859.3v2.05" stroke="#111" stroke-width="0.78"/>
<path d="M175.37 820.5V810.6M168.62 810.6H182.12" stroke="#151515" stroke-width="1" fill="none"/>
<rect x="162.36" y="820.99" width="26.02" height="38.31" fill="#0000fe" stroke="#141414" stroke-width="0.98"/>
<path d="M175.37 859.3v2.05" stroke="#111" stroke-width="0.78"/>
<path d="M209.24 849.4V839.8M202.49 839.8H215.99" stroke="#151515" stroke-width="1" fill="none"/>
<rect x="196.23" y="849.89" width="26.02" height="9.41" fill="#f84242" stroke="#141414" stroke-width="0.98"/>
<path d="M209.24 859.3v2.05" stroke="#111" stroke-width="0.78"/>
<path d="M243.11 849.7V839.8M236.36 839.8H249.86" stroke="#151515" stroke-width="1" fill="none"/>
<rect x="230.1" y="850.19" width="26.02" height="9.11" fill="#f2b87c" stroke="#141414" stroke-width="0.98"/>
<path d="M243.11 859.3v2.05" stroke="#111" stroke-width="0.78"/>
<path d="M124.5 756.41V859.3" stroke="#222" stroke-width="0.86" fill="none"/>
<path d="M124.07 859.3H259.9" stroke="#111" stroke-width="0.98" fill="none"/>
<path d="M141.5 774.04V771.8H243.11V774.04" stroke="#5c5c5c" stroke-width="0.56" fill="none"/>
<text class="st" font-size="6.81" stroke-width="0.28" textLength="13.64" lengthAdjust="spacingAndGlyphs" x="185.48" y="771.33">****</text>
<path d="M175.37 784.24V782H243.11V784.24" stroke="#5c5c5c" stroke-width="0.56" fill="none"/>
<text class="st" font-size="6.81" stroke-width="0.28" textLength="13.64" lengthAdjust="spacingAndGlyphs" x="202.42" y="781.53">****</text>
<path d="M141.5 794.74v-1.34M209.24 794.74v-1.34" stroke="#999" stroke-width="0.51" fill="none"/>
<text class="st" font-size="6.81" stroke-width="0.28" textLength="13.64" lengthAdjust="spacingAndGlyphs" x="168.55" y="792.03">****</text>
<path d="M141.5 805.24V803H174.62V805.24" stroke="#808080" stroke-width="0.56" fill="none"/>
<text class="ns" font-size="5.22" text-anchor="middle" x="158.06" y="800.95">ns</text>
<path d="M176.12 805.24V803H208.49V805.24" stroke="#5c5c5c" stroke-width="0.56" fill="none"/>
<text class="st" font-size="6.81" stroke-width="0.28" textLength="13.64" lengthAdjust="spacingAndGlyphs" x="185.48" y="802.53">****</text>
<path d="M209.99 805.24V803H243.11V805.24" stroke="#808080" stroke-width="0.56" fill="none"/>
<text class="ns" font-size="5.22" text-anchor="middle" x="226.55" y="800.95">ns</text></g>
<g><text class="yl" font-size="9.05" stroke-width="0.18" textLength="96.9" lengthAdjust="spacingAndGlyphs" transform="translate(313.87 864.3) rotate(-90)">Acridine Orange (MFI)</text>
<text class="tk" font-size="5.32" stroke-width="0.05" text-anchor="end" x="326.44" y="774.22">200</text>
<path d="M326.92 772.3H328.6" stroke="#111" stroke-width="0.84"/>
<text class="tk" font-size="5.32" stroke-width="0.05" text-anchor="end" x="326.44" y="796.19">150</text>
<path d="M326.92 794.27H328.6" stroke="#111" stroke-width="0.84"/>
<text class="tk" font-size="5.32" stroke-width="0.05" text-anchor="end" x="326.44" y="818.17">100</text>
<path d="M326.92 816.25H328.6" stroke="#111" stroke-width="0.84"/>
<text class="tk" font-size="5.32" stroke-width="0.05" text-anchor="end" x="326.44" y="840.14">50</text>
<path d="M326.92 838.23H328.6" stroke="#111" stroke-width="0.84"/>
<text class="tk" font-size="5.32" stroke-width="0.05" text-anchor="end" x="326.44" y="862.12">0</text>
<path d="M326.92 860.2H328.6" stroke="#111" stroke-width="0.84"/>
<path d="M343.3 791V784.6M337.4 784.6H349.2" stroke="#151515" stroke-width="1" fill="none"/>
<rect x="331.92" y="791.42" width="22.76" height="68.78" fill="#a1a1a6" stroke="#141414" stroke-width="0.84"/>
<path d="M343.3 860.2v1.76" stroke="#111" stroke-width="0.67"/>
<path d="M372.2 800.1V789.6M366.3 789.6H378.1" stroke="#151515" stroke-width="1" fill="none"/>
<rect x="360.82" y="800.52" width="22.76" height="59.68" fill="#0000fe" stroke="#141414" stroke-width="0.84"/>
<path d="M372.2 860.2v1.76" stroke="#111" stroke-width="0.67"/>
<path d="M401.1 798.6V786.4M395.2 786.4H407" stroke="#151515" stroke-width="1" fill="none"/>
<rect x="389.72" y="799.02" width="22.76" height="61.18" fill="#f84242" stroke="#141414" stroke-width="0.84"/>
<path d="M401.1 860.2v1.76" stroke="#111" stroke-width="0.67"/>
<path d="M430 790.7V775.8M424.1 775.8H435.9" stroke="#151515" stroke-width="1" fill="none"/>
<rect x="418.62" y="791.12" width="22.76" height="69.08" fill="#f2b87c" stroke="#141414" stroke-width="0.84"/>
<path d="M430 860.2v1.76" stroke="#111" stroke-width="0.67"/>
<path d="M328.6 771.88V860.2" stroke="#222" stroke-width="0.74" fill="none"/>
<path d="M328.23 860.2H445.1" stroke="#111" stroke-width="0.84" fill="none"/>
<path d="M343.3 745.62V743.7H430V745.62" stroke="#808080" stroke-width="0.48" fill="none"/>
<text class="ns" font-size="4.48" text-anchor="middle" x="386.65" y="741.94">ns</text>
<path d="M372.2 755.32V753.4H430V755.32" stroke="#808080" stroke-width="0.48" fill="none"/>
<text class="ns" font-size="4.48" text-anchor="middle" x="401.1" y="751.64">ns</text>
<path d="M343.3 764.62V762.7H401.1V764.62" stroke="#808080" stroke-width="0.48" fill="none"/>
<text class="ns" font-size="4.48" text-anchor="middle" x="372.2" y="760.94">ns</text>
<path d="M343.3 773.72V771.8H371.56V773.72" stroke="#808080" stroke-width="0.48" fill="none"/>
<text class="ns" font-size="4.48" text-anchor="middle" x="357.43" y="770.04">ns</text>
<path d="M372.84 773.72V771.8H400.46V773.72" stroke="#808080" stroke-width="0.48" fill="none"/>
<text class="ns" font-size="4.48" text-anchor="middle" x="386.65" y="770.04">ns</text>
<path d="M401.74 773.72V771.8H430V773.72" stroke="#808080" stroke-width="0.48" fill="none"/>
<text class="ns" font-size="4.48" text-anchor="middle" x="415.87" y="770.04">ns</text></g>
<g><text class="yl" font-size="9.67" stroke-width="0.19" textLength="103.6" lengthAdjust="spacingAndGlyphs" transform="translate(529.85 864.3) rotate(-90)">Acridine Orange (MFI)</text>
<text class="tk" font-size="5.73" stroke-width="0.05" text-anchor="end" x="543.37" y="767.66">200</text>
<path d="M543.89 765.6H545.7" stroke="#111" stroke-width="0.9"/>
<text class="tk" font-size="5.73" stroke-width="0.05" text-anchor="end" x="543.37" y="791.31">150</text>
<path d="M543.89 789.25H545.7" stroke="#111" stroke-width="0.9"/>
<text class="tk" font-size="5.73" stroke-width="0.05" text-anchor="end" x="543.37" y="814.96">100</text>
<path d="M543.89 812.9H545.7" stroke="#111" stroke-width="0.9"/>
<text class="tk" font-size="5.73" stroke-width="0.05" text-anchor="end" x="543.37" y="838.61">50</text>
<path d="M543.89 836.55H545.7" stroke="#111" stroke-width="0.9"/>
<text class="tk" font-size="5.73" stroke-width="0.05" text-anchor="end" x="543.37" y="862.26">0</text>
<path d="M543.89 860.2H545.7" stroke="#111" stroke-width="0.9"/>
<path d="M561.55 784V781.7M555.22 781.7H567.88" stroke="#151515" stroke-width="1" fill="none"/>
<rect x="549.35" y="784.45" width="24.4" height="75.75" fill="#a1a1a6" stroke="#141414" stroke-width="0.9"/>
<path d="M561.55 860.2v1.9" stroke="#111" stroke-width="0.72"/>
<path d="M592.72 792.2V778.5M586.39 778.5H599.04" stroke="#151515" stroke-width="1" fill="none"/>
<rect x="580.52" y="792.65" width="24.4" height="67.55" fill="#0000fe" stroke="#141414" stroke-width="0.9"/>
<path d="M592.72 860.2v1.9" stroke="#111" stroke-width="0.72"/>
<path d="M623.89 803.9V794.5M617.56 794.5H630.22" stroke="#151515" stroke-width="1" fill="none"/>
<rect x="611.69" y="804.35" width="24.4" height="55.85" fill="#f84242" stroke="#141414" stroke-width="0.9"/>
<path d="M623.89 860.2v1.9" stroke="#111" stroke-width="0.72"/>
<path d="M655.06 805.3V799.5M648.73 799.5H661.38" stroke="#151515" stroke-width="1" fill="none"/>
<rect x="642.86" y="805.75" width="24.4" height="54.45" fill="#f2b87c" stroke="#141414" stroke-width="0.9"/>
<path d="M655.06 860.2v1.9" stroke="#111" stroke-width="0.72"/>
<path d="M545.7 765.15V860.2" stroke="#222" stroke-width="0.8" fill="none"/>
<path d="M545.3 860.2H670.7" stroke="#111" stroke-width="0.9" fill="none"/>
<path d="M561.55 746.07V744H655.06V746.07" stroke="#5c5c5c" stroke-width="0.52" fill="none"/>
<text class="st" font-size="6.29" stroke-width="0.26" textLength="9.45" lengthAdjust="spacingAndGlyphs" x="603.58" y="743.57">***</text>
<path d="M592.72 755.97V753.9H655.06V755.97" stroke="#5c5c5c" stroke-width="0.52" fill="none"/>
<text class="st" font-size="6.29" stroke-width="0.26" textLength="3.15" lengthAdjust="spacingAndGlyphs" x="622.31" y="753.47">*</text>
<path d="M561.55 766.27V764.2H623.89V766.27" stroke="#5c5c5c" stroke-width="0.52" fill="none"/>
<text class="st" font-size="6.29" stroke-width="0.26" textLength="6.3" lengthAdjust="spacingAndGlyphs" x="589.57" y="763.77">**</text>
<path d="M561.55 775.87V773.8H592.03V775.87" stroke="#808080" stroke-width="0.52" fill="none"/>
<text class="ns" font-size="4.82" text-anchor="middle" x="576.79" y="771.9">ns</text>
<path d="M593.41 775.87V773.8H623.2V775.87" stroke="#808080" stroke-width="0.52" fill="none"/>
<text class="ns" font-size="4.82" text-anchor="middle" x="608.3" y="771.9">ns</text>
<path d="M624.58 775.87V773.8H655.06V775.87" stroke="#808080" stroke-width="0.52" fill="none"/>
<text class="ns" font-size="4.82" text-anchor="middle" x="639.82" y="771.9">ns</text></g>
<g><text class="yl" font-size="11.1" stroke-width="0.22" textLength="118.9" lengthAdjust="spacingAndGlyphs" transform="translate(108.45 1037.2) rotate(-90)">Acridine Orange (MFI)</text>
<text class="tk" font-size="6.74" stroke-width="0.06" text-anchor="end" x="124.36" y="924.53">200</text>
<path d="M124.97 922.1H127.1" stroke="#111" stroke-width="1.06"/>
<text class="tk" font-size="6.74" stroke-width="0.06" text-anchor="end" x="124.36" y="952.35">150</text>
<path d="M124.97 949.93H127.1" stroke="#111" stroke-width="1.06"/>
<text class="tk" font-size="6.74" stroke-width="0.06" text-anchor="end" x="124.36" y="980.18">100</text>
<path d="M124.97 977.75H127.1" stroke="#111" stroke-width="1.06"/>
<text class="tk" font-size="6.74" stroke-width="0.06" text-anchor="end" x="124.36" y="1008">50</text>
<path d="M124.97 1005.58H127.1" stroke="#111" stroke-width="1.06"/>
<text class="tk" font-size="6.74" stroke-width="0.06" text-anchor="end" x="124.36" y="1035.83">0</text>
<path d="M124.97 1033.4H127.1" stroke="#111" stroke-width="1.06"/>
<path d="M145.35 978V977.3M137.78 977.3H152.92" stroke="#151515" stroke-width="1.06" fill="none"/>
<rect x="130.73" y="978.53" width="29.24" height="54.87" fill="#a1a1a6" stroke="#141414" stroke-width="1.06"/>
<path d="M145.35 1033.4v2.23" stroke="#111" stroke-width="0.85"/>
<path d="M182.02 1006.5V1000.7M174.45 1000.7H189.59" stroke="#151515" stroke-width="1.06" fill="none"/>
<rect x="167.4" y="1007.03" width="29.24" height="26.37" fill="#0000fe" stroke="#141414" stroke-width="1.06"/>
<path d="M182.02 1033.4v2.23" stroke="#111" stroke-width="0.85"/>
<path d="M218.69 1020.5V1015M211.12 1015H226.26" stroke="#151515" stroke-width="1.06" fill="none"/>
<rect x="204.07" y="1021.03" width="29.24" height="12.37" fill="#f84242" stroke="#141414" stroke-width="1.06"/>
<path d="M218.69 1033.4v2.23" stroke="#111" stroke-width="0.85"/>
<path d="M255.36 1024.6V1019.3M247.78 1019.3H262.94" stroke="#151515" stroke-width="1.06" fill="none"/>
<rect x="240.74" y="1025.13" width="29.24" height="8.27" fill="#f2b87c" stroke="#141414" stroke-width="1.06"/>
<path d="M255.36 1033.4v2.23" stroke="#111" stroke-width="0.85"/>
<path d="M127.1 921.57V1033.4" stroke="#222" stroke-width="0.94" fill="none"/>
<path d="M126.63 1033.4H274.5" stroke="#111" stroke-width="1.06" fill="none"/>
<path d="M145.35 939.43V937H255.36V939.43" stroke="#5c5c5c" stroke-width="0.61" fill="none"/>
<text class="st" font-size="7.4" stroke-width="0.3" textLength="14.83" lengthAdjust="spacingAndGlyphs" x="192.94" y="936.49">****</text>
<path d="M182.02 951.73V949.3H255.36V951.73" stroke="#5c5c5c" stroke-width="0.61" fill="none"/>
<text class="st" font-size="7.4" stroke-width="0.3" textLength="14.83" lengthAdjust="spacingAndGlyphs" x="211.28" y="948.79">****</text>
<path d="M145.35 962.83V960.4H218.69V962.83" stroke="#5c5c5c" stroke-width="0.61" fill="none"/>
<text class="st" font-size="7.4" stroke-width="0.3" textLength="14.83" lengthAdjust="spacingAndGlyphs" x="174.61" y="959.89">****</text>
<path d="M145.35 974.23v-1.46M181.21 974.23v-1.46" stroke="#999" stroke-width="0.56" fill="none"/>
<text class="st" font-size="7.4" stroke-width="0.3" textLength="14.83" lengthAdjust="spacingAndGlyphs" x="155.87" y="971.29">****</text>
<path d="M182.83 974.23v-1.46M217.88 974.23v-1.46" stroke="#999" stroke-width="0.56" fill="none"/>
<text class="st" font-size="7.4" stroke-width="0.3" textLength="14.83" lengthAdjust="spacingAndGlyphs" x="192.94" y="971.29">****</text>
<path d="M219.5 974.23v-1.46M255.36 974.23v-1.46" stroke="#999" stroke-width="0.56" fill="none"/>
<text class="ns" font-size="5.68" text-anchor="middle" x="237.43" y="969.57">ns</text></g>
<g><text class="yl" font-size="10.71" stroke-width="0.21" textLength="114.7" lengthAdjust="spacingAndGlyphs" transform="translate(316.75 1037.4) rotate(-90)">Acridine Orange (MFI)</text>
<text class="tk" font-size="6.41" stroke-width="0.06" text-anchor="end" x="331.9" y="930.01">200</text>
<path d="M332.47 927.7H334.5" stroke="#111" stroke-width="1.01"/>
<text class="tk" font-size="6.41" stroke-width="0.06" text-anchor="end" x="331.9" y="956.48">150</text>
<path d="M332.47 954.17H334.5" stroke="#111" stroke-width="1.01"/>
<text class="tk" font-size="6.41" stroke-width="0.06" text-anchor="end" x="331.9" y="982.96">100</text>
<path d="M332.47 980.65H334.5" stroke="#111" stroke-width="1.01"/>
<text class="tk" font-size="6.41" stroke-width="0.06" text-anchor="end" x="331.9" y="1009.43">50</text>
<path d="M332.47 1007.12H334.5" stroke="#111" stroke-width="1.01"/>
<text class="tk" font-size="6.41" stroke-width="0.06" text-anchor="end" x="331.9" y="1035.91">0</text>
<path d="M332.47 1033.6H334.5" stroke="#111" stroke-width="1.01"/>
<path d="M352.1 949.6V944.9M345.05 944.9H359.15" stroke="#151515" stroke-width="1.01" fill="none"/>
<rect x="338.51" y="950.11" width="27.19" height="83.49" fill="#a1a1a6" stroke="#141414" stroke-width="1.01"/>
<path d="M352.1 1033.6v2.12" stroke="#111" stroke-width="0.81"/>
<path d="M386.93 975.5V958.6M379.88 958.6H393.98" stroke="#151515" stroke-width="1.01" fill="none"/>
<rect x="373.34" y="976.01" width="27.19" height="57.59" fill="#0000fe" stroke="#141414" stroke-width="1.01"/>
<path d="M386.93 1033.6v2.12" stroke="#111" stroke-width="0.81"/>
<path d="M421.76 990.7V986.6M414.71 986.6H428.81" stroke="#151515" stroke-width="1.01" fill="none"/>
<rect x="408.17" y="991.21" width="27.19" height="42.39" fill="#f84242" stroke="#141414" stroke-width="1.01"/>
<path d="M421.76 1033.6v2.12" stroke="#111" stroke-width="0.81"/>
<path d="M456.59 1023.4V1016.1M449.54 1016.1H463.64" stroke="#151515" stroke-width="1.01" fill="none"/>
<rect x="443" y="1023.91" width="27.19" height="9.69" fill="#f2b87c" stroke="#141414" stroke-width="1.01"/>
<path d="M456.59 1033.6v2.12" stroke="#111" stroke-width="0.81"/>
<path d="M334.5 927.19V1033.6" stroke="#222" stroke-width="0.89" fill="none"/>
<path d="M334.05 1033.6H475.2" stroke="#111" stroke-width="1.01" fill="none"/>
<path d="M352.1 908.91V906.6H456.59V908.91" stroke="#5c5c5c" stroke-width="0.58" fill="none"/>
<text class="st" font-size="7.04" stroke-width="0.29" textLength="14.11" lengthAdjust="spacingAndGlyphs" x="397.29" y="906.12">****</text>
<path d="M386.93 919.71V917.4H456.59V919.71" stroke="#5c5c5c" stroke-width="0.58" fill="none"/>
<text class="st" font-size="7.04" stroke-width="0.29" textLength="14.11" lengthAdjust="spacingAndGlyphs" x="414.71" y="916.92">****</text>
<path d="M352.1 930.81V928.5H421.76V930.81" stroke="#5c5c5c" stroke-width="0.58" fill="none"/>
<text class="st" font-size="7.04" stroke-width="0.29" textLength="14.11" lengthAdjust="spacingAndGlyphs" x="379.88" y="928.02">****</text>
<path d="M352.1 942.51v-1.39M386.16 942.51v-1.39" stroke="#999" stroke-width="0.53" fill="none"/>
<text class="st" font-size="7.04" stroke-width="0.29" textLength="7.05" lengthAdjust="spacingAndGlyphs" x="365.6" y="939.72">**</text>
<path d="M387.7 942.51v-1.39M420.99 942.51v-1.39" stroke="#999" stroke-width="0.53" fill="none"/>
<text class="st" font-size="7.04" stroke-width="0.29" textLength="3.53" lengthAdjust="spacingAndGlyphs" x="402.58" y="939.72">*</text>
<path d="M422.53 942.51v-1.39M456.59 942.51v-1.39" stroke="#999" stroke-width="0.53" fill="none"/>
<text class="st" font-size="7.04" stroke-width="0.29" textLength="10.58" lengthAdjust="spacingAndGlyphs" x="434.27" y="939.72">***</text></g>
<g><text class="yl" font-size="9.95" stroke-width="0.2" textLength="106.6" lengthAdjust="spacingAndGlyphs" transform="translate(530.76 1038.9) rotate(-90)">Acridine Orange (MFI)</text>
<text class="tk" font-size="5.94" stroke-width="0.05" text-anchor="end" x="544.79" y="938.24">200</text>
<path d="M545.32 936.1H547.2" stroke="#111" stroke-width="0.94"/>
<text class="tk" font-size="5.94" stroke-width="0.05" text-anchor="end" x="544.79" y="962.76">150</text>
<path d="M545.32 960.62H547.2" stroke="#111" stroke-width="0.94"/>
<text class="tk" font-size="5.94" stroke-width="0.05" text-anchor="end" x="544.79" y="987.29">100</text>
<path d="M545.32 985.15H547.2" stroke="#111" stroke-width="0.94"/>
<text class="tk" font-size="5.94" stroke-width="0.05" text-anchor="end" x="544.79" y="1011.81">50</text>
<path d="M545.32 1009.68H547.2" stroke="#111" stroke-width="0.94"/>
<text class="tk" font-size="5.94" stroke-width="0.05" text-anchor="end" x="544.79" y="1036.34">0</text>
<path d="M545.32 1034.2H547.2" stroke="#111" stroke-width="0.94"/>
<path d="M563.55 955.4V952.5M556.97 952.5H570.12" stroke="#151515" stroke-width="1" fill="none"/>
<rect x="550.87" y="955.87" width="25.36" height="78.33" fill="#a1a1a6" stroke="#141414" stroke-width="0.94"/>
<path d="M563.55 1034.2v1.97" stroke="#111" stroke-width="0.75"/>
<path d="M595.95 976.4V966.5M589.37 966.5H602.52" stroke="#151515" stroke-width="1" fill="none"/>
<rect x="583.27" y="976.87" width="25.36" height="57.33" fill="#0000fe" stroke="#141414" stroke-width="0.94"/>
<path d="M595.95 1034.2v1.97" stroke="#111" stroke-width="0.75"/>
<path d="M628.35 980.5V971.8M621.77 971.8H634.92" stroke="#151515" stroke-width="1" fill="none"/>
<rect x="615.67" y="980.97" width="25.36" height="53.23" fill="#f84242" stroke="#141414" stroke-width="0.94"/>
<path d="M628.35 1034.2v1.97" stroke="#111" stroke-width="0.75"/>
<path d="M660.75 979.9V972.6M654.17 972.6H667.32" stroke="#151515" stroke-width="1" fill="none"/>
<rect x="648.07" y="980.37" width="25.36" height="53.83" fill="#f2b87c" stroke="#141414" stroke-width="0.94"/>
<path d="M660.75 1034.2v1.97" stroke="#111" stroke-width="0.75"/>
<path d="M547.2 935.63V1034.2" stroke="#222" stroke-width="0.83" fill="none"/>
<path d="M546.79 1034.2H676.8" stroke="#111" stroke-width="0.94" fill="none"/>
<path d="M563.55 919.84V917.7H660.75V919.84" stroke="#5c5c5c" stroke-width="0.54" fill="none"/>
<text class="st" font-size="6.52" stroke-width="0.27" textLength="13.07" lengthAdjust="spacingAndGlyphs" x="605.62" y="917.25">****</text>
<path d="M595.95 930.14v-1.29M660.75 930.14v-1.29" stroke="#999" stroke-width="0.49" fill="none"/>
<text class="ns" font-size="5" text-anchor="middle" x="628.35" y="926.03">ns</text>
<path d="M563.55 939.74V937.6H628.35V939.74" stroke="#5c5c5c" stroke-width="0.54" fill="none"/>
<text class="st" font-size="6.52" stroke-width="0.27" textLength="13.07" lengthAdjust="spacingAndGlyphs" x="589.42" y="937.15">****</text>
<path d="M563.55 949.94V947.8H595.24V949.94" stroke="#5c5c5c" stroke-width="0.54" fill="none"/>
<text class="st" font-size="6.52" stroke-width="0.27" textLength="9.8" lengthAdjust="spacingAndGlyphs" x="574.49" y="947.35">***</text>
<path d="M596.66 949.94V947.8H627.64V949.94" stroke="#808080" stroke-width="0.54" fill="none"/>
<text class="ns" font-size="5" text-anchor="middle" x="612.15" y="945.83">ns</text>
<path d="M629.06 949.94V947.8H660.75V949.94" stroke="#808080" stroke-width="0.54" fill="none"/>
<text class="ns" font-size="5" text-anchor="middle" x="644.91" y="945.83">ns</text></g>
</g>
<g id="legend">
<rect x="160.6" y="1043.2" width="12.8" height="14.6" fill="#a1a1a6" stroke="#111" stroke-width="2"/>
<text class="lg" x="184.2" y="1057.8">Vehicle</text>
<rect x="303.8" y="1043.2" width="12.8" height="14.6" fill="#0000fe" stroke="#111" stroke-width="2"/>
<text class="lg" x="327.6" y="1057.8">1µM</text>
<rect x="429.8" y="1043.2" width="12.8" height="14.6" fill="#f84242" stroke="#111" stroke-width="2"/>
<text class="lg" x="453.2" y="1057.8">5µM</text>
<rect x="553.3" y="1043.2" width="12.8" height="14.6" fill="#f2b87c" stroke="#111" stroke-width="2"/>
<text class="lg" x="576" y="1057.8">20µM</text>
</g>
</svg></body></html>
